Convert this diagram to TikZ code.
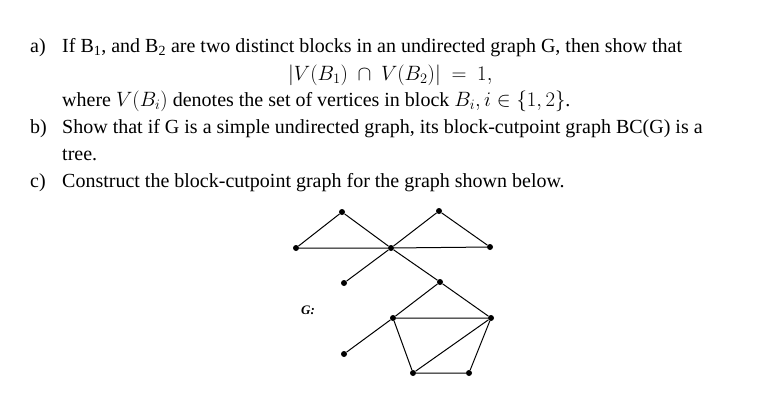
\documentclass[tikz,border=0pt]{standalone}
\usepackage{fontspec}
\setmainfont{Liberation Serif}
\begin{document}
\begin{tikzpicture}[x=1pt,y=-1pt,
 txt/.style={anchor=base west,inner sep=0pt,font=\fontsize{20}{22}\selectfont},
 vtx/.style={circle,fill=black,inner sep=0pt,minimum size=6pt},
 edge/.style={line width=1pt}]
\useasboundingbox (0,0) rectangle (774,405);
\node[txt] (la) at (30,52) {a)};
\node[txt] (ta) at (62,52) {If B\textsubscript{1}, and B\textsubscript{2} are two distinct blocks in an undirected graph G, then show that};
\node[txt] (ma) at (288,80) {$|V(B_1)\ \cap\ V(B_2)|\ =\ 1,$};
\node[txt] (wa) at (62,106) {where $V(B_i)$ denotes the set of vertices in block $B_i, i\in\{1,2\}$.};
\node[txt] (lb) at (30,133) {b)};
\node[txt] (tb) at (62,133) {Show that if G is a simple undirected graph, its block-cutpoint graph BC(G) is a};
\node[txt] (tb2) at (62,160) {tree.};
\node[txt] (lc) at (30,187) {c)};
\node[txt] (tc) at (62,187) {Construct the block-cutpoint graph for the graph shown below.};
\node[vtx] (a) at (342,212) {};
\node[vtx] (b) at (439,211) {};
\node[vtx] (c) at (296,248) {};
\node[vtx] (d) at (391,248) {};
\node[vtx] (e) at (490,247) {};
\node[vtx] (f) at (344,283) {};
\node[vtx] (g) at (440,282) {};
\node[vtx] (h) at (393,318) {};
\node[vtx] (i) at (491,318) {};
\node[vtx] (j) at (344,354) {};
\node[vtx] (k) at (413,373) {};
\node[vtx] (l) at (469,373) {};
\node[font=\fontsize{13}{14}\selectfont\itshape\bfseries] (G) at (308,310) {G:};
\draw[edge] (a)--(c) (a)--(d) (c)--(d) (d)--(b) (b)--(e) (d)--(e) (d)--(f) (d)--(g)
 (g)--(h) (g)--(i) (h)--(i) (h)--(j) (h)--(k) (k)--(i) (k)--(l) (l)--(i);
\end{tikzpicture}
\end{document}
